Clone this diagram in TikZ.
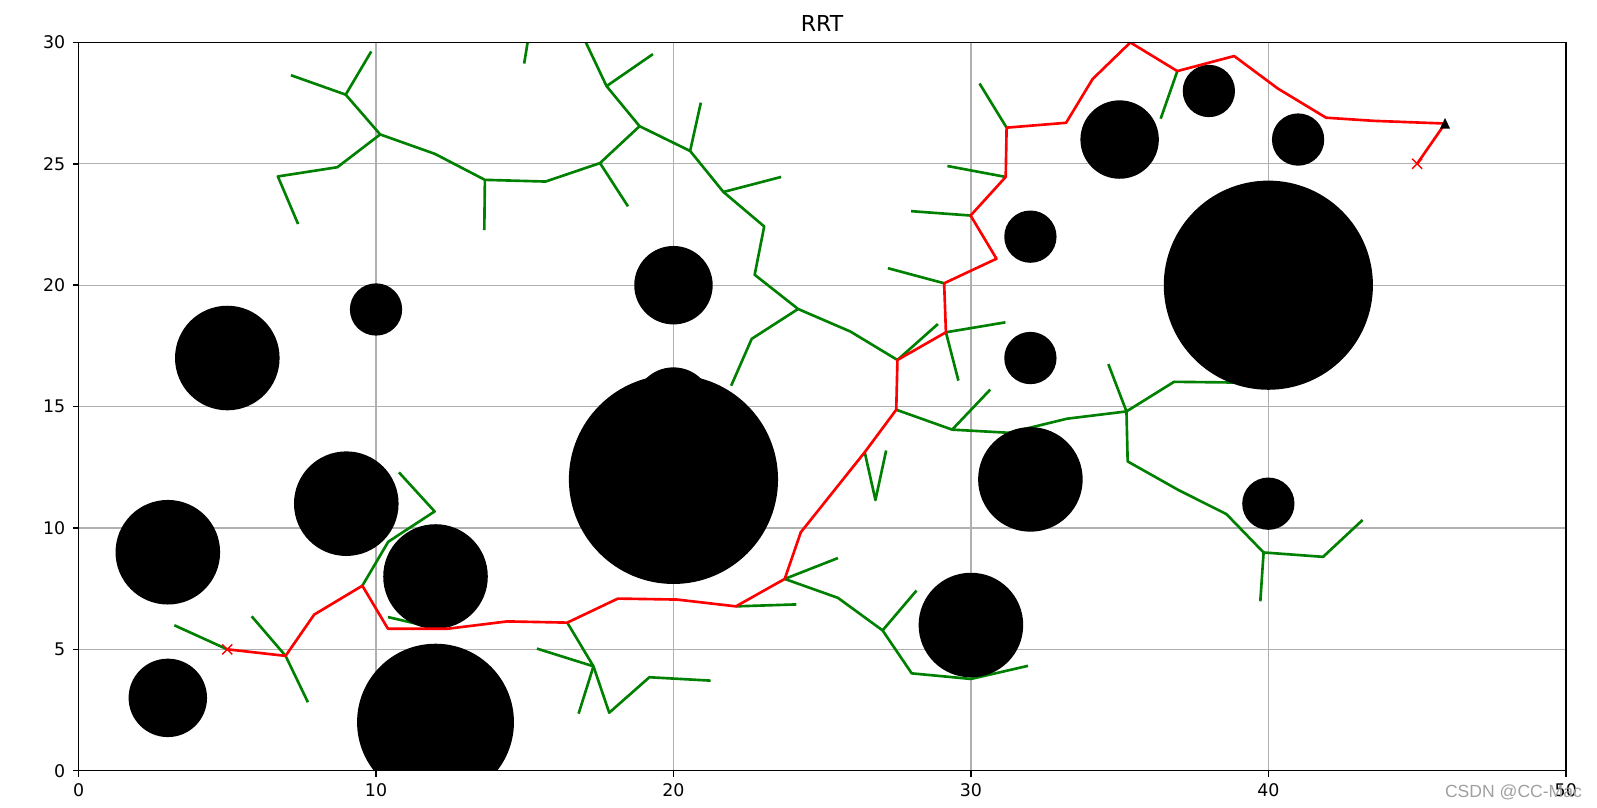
\documentclass[tikz,border=0pt]{standalone}
\usepackage{fontspec}
\setmainfont{DejaVu Sans}
\newfontfamily\wmfont{Liberation Sans}
\definecolor{mplgreen}{HTML}{008000}
\definecolor{mplred}{HTML}{FF0000}
\definecolor{gridgray}{HTML}{B0B0B0}
\definecolor{wmgray}{HTML}{A0A0A0}
\tikzset{
  gridline/.style={draw=gridgray, line width=0.7pt},
  treeedge/.style={draw=mplgreen, line width=1.5pt, line join=round},
  pathedge/.style={draw=mplred, line width=1.5pt, line join=round},
  obstacle/.style={fill=black},
  spine/.style={draw=black, line width=0.85pt},
  ticklabel/.style={inner sep=0pt, font=\fontsize{9.9pt}{12pt}\selectfont},
  xmark/.style={draw=mplred, line width=0.8pt},
}
\begin{document}
\begin{tikzpicture}[x=0.02cm,y=0.02cm]
\useasboundingbox (0,0) rectangle (1597,808);
\fill[white] (0,0) rectangle (1597,808);
\begin{scope}[shift={(1.572cm,0.746cm)}, x=0.595cm, y=0.4856cm]
  % grid
  \foreach \gx in {10,20,30,40} \draw[gridline] (\gx,0) -- (\gx,30);
  \foreach \gy in {5,10,15,20,25} \draw[gridline] (0,\gy) -- (50,\gy);
  \begin{scope}
    \clip (0,0) rectangle (50,30);
    % tree edges
    \draw[treeedge] (7.14,28.65) -- (8.98,27.85) -- (9.84,29.63);
    \draw[treeedge] (8.98,27.85) -- (10.14,26.21);
    \draw[treeedge] (10.14,26.21) -- (8.70,24.86) -- (6.70,24.48) -- (7.38,22.52);
    \draw[treeedge] (10.14,26.21) -- (11.98,25.41) -- (13.66,24.34) -- (15.70,24.27) -- (17.53,25.03) -- (18.86,26.55) -- (20.56,25.53) -- (21.68,23.84) -- (23.05,22.42) -- (22.73,20.43) -- (24.19,19.02) -- (25.95,18.09) -- (27.53,16.92);
    \draw[treeedge] (13.66,24.34) -- (13.64,22.27);
    \draw[treeedge] (17.53,25.03) -- (18.47,23.25);
    \draw[treeedge] (18.86,26.55) -- (17.75,28.20) -- (19.31,29.52);
    \draw[treeedge] (17.75,28.20) -- (16.90,30.40);
    \draw[treeedge] (20.56,25.53) -- (20.92,27.52);
    \draw[treeedge] (21.68,23.84) -- (23.62,24.46);
    \draw[treeedge] (24.19,19.02) -- (22.63,17.79) -- (21.94,15.86);
    \draw[treeedge] (27.53,16.92) -- (28.89,18.40);
    \draw[treeedge] (29.16,18.06) -- (31.16,18.47);
    \draw[treeedge] (29.16,18.06) -- (29.58,16.07);
    \draw[treeedge] (29.10,20.08) -- (27.21,20.70);
    \draw[treeedge] (29.99,22.87) -- (27.99,23.05);
    \draw[treeedge] (31.17,24.46) -- (29.21,24.91);
    \draw[treeedge] (31.20,26.49) -- (30.29,28.31);
    \draw[treeedge] (14.98,29.13) -- (15.15,30.40);
    \draw[treeedge] (27.49,14.87) -- (29.37,14.05) -- (31.28,13.92) -- (33.23,14.50) -- (35.23,14.80) -- (36.83,16.02) -- (39.60,15.98);
    \draw[treeedge] (29.37,14.05) -- (30.65,15.70);
    \draw[treeedge] (35.23,14.80) -- (34.62,16.75);
    \draw[treeedge] (35.23,14.80) -- (35.27,12.74) -- (36.98,11.56) -- (38.59,10.57) -- (39.84,8.99) -- (41.84,8.81) -- (43.17,10.33);
    \draw[treeedge] (39.84,8.99) -- (39.73,6.98);
    \draw[treeedge] (36.94,28.82) -- (36.38,26.86);
    \draw[treeedge] (26.43,13.12) -- (26.79,11.15) -- (27.15,13.19);
    \draw[treeedge] (23.74,7.90) -- (25.53,8.76);
    \draw[treeedge] (23.74,7.90) -- (25.53,7.12) -- (27.03,5.78) -- (28.01,4.01) -- (30.00,3.78) -- (31.92,4.32);
    \draw[treeedge] (27.03,5.78) -- (28.17,7.42);
    \draw[treeedge] (22.10,6.77) -- (24.13,6.85);
    \draw[treeedge] (16.43,6.10) -- (17.31,4.30) -- (15.41,5.03);
    \draw[treeedge] (17.31,4.30) -- (16.81,2.35);
    \draw[treeedge] (17.31,4.30) -- (17.84,2.39) -- (19.19,3.85) -- (21.25,3.71);
    \draw[treeedge] (5,5) -- (3.22,5.99);
    \draw[treeedge] (6.96,4.73) -- (5.82,6.36);
    \draw[treeedge] (6.96,4.73) -- (7.71,2.82);
    \draw[treeedge] (9.54,7.62) -- (10.41,9.43) -- (11.97,10.68) -- (10.77,12.29);
    \draw[treeedge] (10.40,6.33) -- (11.90,5.90);
    % obstacles
    \fill[obstacle] (5,17) circle[radius=1.046cm];
    \fill[obstacle] (10,19) circle[radius=0.523cm];
    \fill[obstacle] (20,20) circle[radius=0.7845cm];
    \fill[obstacle] (3,9) circle[radius=1.046cm];
    \fill[obstacle] (9,11) circle[radius=1.046cm];
    \fill[obstacle] (12,8) circle[radius=1.046cm];
    \fill[obstacle] (3,3) circle[radius=0.7845cm];
    \fill[obstacle] (12,2) circle[radius=1.569cm];
    \fill[obstacle] (20,12) circle[radius=2.092cm];
    \fill[obstacle] (20,15) circle[radius=0.7845cm];
    \fill[obstacle] (30,6) circle[radius=1.046cm];
    \fill[obstacle] (32,12) circle[radius=1.046cm];
    \fill[obstacle] (32,17) circle[radius=0.523cm];
    \fill[obstacle] (32,22) circle[radius=0.523cm];
    \fill[obstacle] (35,26) circle[radius=0.7845cm];
    \fill[obstacle] (38,28) circle[radius=0.523cm];
    \fill[obstacle] (41,26) circle[radius=0.523cm];
    \fill[obstacle] (40,20) circle[radius=2.092cm];
    \fill[obstacle] (40,11) circle[radius=0.523cm];
    % final path
    \draw[pathedge] (5,5) -- (6.96,4.73) -- (7.92,6.43) -- (9.54,7.62) -- (10.40,5.85) -- (12.42,5.85) -- (14.41,6.15) -- (16.43,6.10) -- (18.13,7.09) -- (20.12,7.05) -- (22.10,6.77) -- (23.74,7.90) -- (24.28,9.82) -- (26.43,13.12) -- (27.49,14.87) -- (27.53,16.92) -- (29.16,18.06) -- (29.10,20.08) -- (30.86,21.09) -- (29.99,22.87) -- (31.17,24.46) -- (31.20,26.49) -- (33.20,26.69) -- (34.09,28.49) -- (35.36,30.00) -- (36.94,28.82) -- (38.85,29.44) -- (40.32,28.10) -- (41.94,26.90) -- (43.55,26.77) -- (45.94,26.66) -- (45,25);
  \end{scope}
  % markers
  \coordinate (start) at (5,5);
  \coordinate (goal) at (45,25);
  \coordinate (last) at (45.94,26.66);
  \draw[xmark] (start) +(-0.1cm,-0.1cm) -- +(0.1cm,0.1cm) (start) +(-0.1cm,0.1cm) -- +(0.1cm,-0.1cm);
  \draw[xmark] (goal) +(-0.1cm,-0.1cm) -- +(0.1cm,0.1cm) (goal) +(-0.1cm,0.1cm) -- +(0.1cm,-0.1cm);
  \fill[black] (last) +(0,0.11cm) -- +(-0.1cm,-0.1cm) -- +(0.1cm,-0.1cm) -- cycle;
  % spines
  \draw[spine] (0,0) rectangle (50,30);
  \foreach \gx in {0,10,20,30,40,50} {
    \draw[spine] (\gx,0) -- ++(0,-0.12cm);
    \path (\gx,0) ++(0,-0.252cm) node[ticklabel, anchor=north] (xl\gx) {\gx};
  }
  \foreach \gy in {0,5,10,15,20,25,30} {
    \draw[spine] (0,\gy) -- ++(-0.12cm,0);
    \path (0,\gy) ++(-0.262cm,0) node[ticklabel, anchor=east] (yl\gy) {\gy};
  }
\end{scope}
\node[inner sep=0pt, font=\fontsize{12.5pt}{15pt}\selectfont] (title) at (822,784.7) {RRT};
\node[inner sep=0pt, text=wmgray, font=\wmfont\fontsize{10pt}{12pt}\selectfont] (wm) at (1513.5,16) {CSDN @CC-Mac};
\end{tikzpicture}
\end{document}
